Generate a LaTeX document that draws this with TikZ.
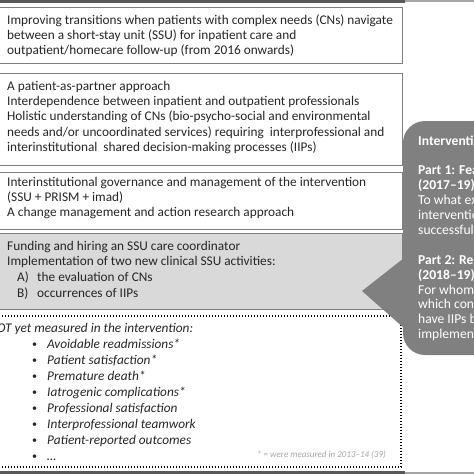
\documentclass[tikz,border=0pt]{standalone}
\usepackage{fontspec}
\setmainfont{Carlito}
\definecolor{txt}{HTML}{262626}
\definecolor{bord}{HTML}{7F7F7F}
\definecolor{lightfill}{HTML}{D9D9D9}
\definecolor{callfill}{HTML}{808080}
\definecolor{band}{HTML}{595959}
\tikzset{
  box/.style={draw=bord, line width=0.9pt},
  boxtext/.style={anchor=base west, inner sep=0pt, align=left, text=txt,
    font=\fontsize{13.3}{15.4}\selectfont},
  listtext/.style={anchor=base west, inner sep=0pt, text=txt,
    font=\fontsize{13.3}{15.4}\selectfont\itshape},
  calltext/.style={anchor=base west, inner sep=0pt, align=left, text=white,
    font=\fontsize{13.6}{14.9}\selectfont},
}
\newcommand{\mydots}{\ldots}
\begin{document}
\begin{tikzpicture}[x=1pt,y=-1pt]
\useasboundingbox (0,0) rectangle (474,474);
\clip (0,0) rectangle (474,474);
% bands
\fill[band] (0,0) rectangle (405,2.5);
\fill[bord!70] (405,0) rectangle (474,2);
\fill[band] (0,471) rectangle (405,474);
\fill[bord!70] (405,472) rectangle (474,474);
% boxes (base anchor = baseline of last line)
\draw[box] (-3,7) rectangle (402,63);
\node[boxtext] (t1) at (7,54.8) {Improving transitions when patients with complex needs (CNs) navigate\\between a short-stay unit (SSU) for inpatient care and\\outpatient/homecare follow-up (from 2016 onwards)};
\draw[box] (-3,73) rectangle (402,165);
\node[boxtext] (t2) at (7,151.6) {A patient-as-partner approach\\Interdependence between inpatient and outpatient professionals\\Holistic understanding of CNs (bio-psycho-social and environmental\\needs and/or uncoordinated services) requiring \ interprofessional and\\interinstitutional \ shared decision-making processes (IIPs)};
\draw[box] (-3,172) rectangle (402,229);
\node[boxtext] (t3) at (7,216.8) {Interinstitutional governance and management of the intervention\\(SSU + PRISM + imad)\\A change management and action research approach};
\draw[box, fill=lightfill] (-3,233) rectangle (402,309);
\node[boxtext] (t4) at (7,265.4) {Funding and hiring an SSU care coordinator\\Implementation of two new clinical SSU activities:};
\node[boxtext] (t4a) at (17,281) {A)};
\node[boxtext] (t4b) at (37,281) {the evaluation of CNs};
\node[boxtext] (t4c) at (17,297) {B)};
\node[boxtext] (t4d) at (37,297) {occurrences of IIPs};
% dotted box
\draw[line width=1.6pt, dash pattern=on 1.3pt off 1.7pt, line cap=butt] (-3,316) rectangle (401,467);
\node[boxtext, font=\fontsize{13.3}{15.4}\selectfont\itshape] (t5) at (-12,332) {NOT yet measured in the intervention:};
\foreach \i/\t in {0/{Avoidable readmissions*},1/{Patient satisfaction*},2/{Premature death*},3/{Iatrogenic complications*},4/{Professional satisfaction},5/{Interprofessional teamwork},6/{Patient-reported outcomes},7/{\mydots}}{
  \node[listtext] (b\i) at (47,348+16*\i) {\t};
  \node[anchor=base west, inner sep=0pt, text=txt, font=\fontsize{10}{12}\selectfont] (d\i) at (32,347+16*\i) {•};
}
\node[anchor=base east, inner sep=0pt, text=black!35, font=\fontsize{9}{10}\selectfont\itshape] (fn) at (386,457) {* = were measured in 2013–14 (39)};
% callout
\fill[callfill, rounded corners=22pt] (403,121) rectangle (520,355);
\fill[callfill] (404,258) -- (362,291) -- (404,328) -- cycle;
\node[calltext] (c1) at (418,338.7) {\textbf{Intervention evaluation}\\[14.9pt]\textbf{Part 1: Feasibility}\\\textbf{(2017–19)}\\To what extent\\intervention\\successfully\\[14.9pt]\textbf{Part 2: Realist}\\\textbf{(2018–19)}\\For whom and\\which conditions\\have IIPs been\\implemented};
\end{tikzpicture}
\end{document}
